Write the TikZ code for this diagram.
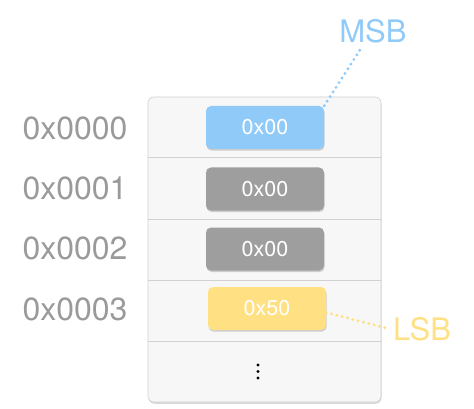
\documentclass[tikz,border=0pt]{standalone}
\usepackage{fontspec}
\setmainfont{TeX Gyre Heros}
\usetikzlibrary{shadows}
\definecolor{cellblue}{HTML}{90CAF9}
\definecolor{cellgray}{HTML}{9E9E9E}
\definecolor{cellyellow}{HTML}{FFE082}
\definecolor{addrgray}{HTML}{9A9A9A}
\definecolor{boxfill}{HTML}{F7F7F7}
\definecolor{boxline}{HTML}{D2D2D2}

\begin{document}
\begin{tikzpicture}[x=1pt, y=-1pt,
  every node/.style={font=\fontsize{21.5}{25}\selectfont},
  cell/.style={rounded corners=5pt, minimum width=118pt, minimum height=43pt, text=white,
    drop shadow={shadow xshift=0.6pt, shadow yshift=-1.6pt, opacity=0.35}},
  addr/.style={text=addrgray, font=\fontsize{32}{38}\selectfont},
  tag/.style={font=\fontsize{31}{37}\selectfont},
  lead/.style={line width=3.2pt, line cap=round, dash pattern=on 0pt off 5.5pt}]
  \useasboundingbox (0,0) rectangle (474,409);

  % memory column
  \node[draw=boxline, line width=0.6pt, fill=boxfill, rounded corners=6pt, minimum width=233pt, minimum height=305pt,
    drop shadow={shadow xshift=0.6pt, shadow yshift=-1.8pt, opacity=0.3}] (mem) at (264.5,249.5) {};
  \draw[boxline, line width=1pt] (148,158) -- (381,158);
  \draw[boxline, line width=1pt] (148,219) -- (381,219);
  \draw[boxline, line width=1pt] (148,280) -- (381,280);
  \draw[boxline, line width=1pt] (148,341) -- (381,341);

  \node[cell, fill=cellblue] (b0) at (265,127.5) {0x00};
  \node[cell, fill=cellgray] (b1) at (265,189) {0x00};
  \node[cell, fill=cellgray] (b2) at (265,249) {0x00};
  \node[cell, fill=cellyellow] (b3) at (267,308.5) {0x50};
  \foreach \y in {365,371.5,378} \fill (258,\y) circle (1.7pt);

  % addresses
  \node[addr, anchor=east] (a0) at (131,128) {0x0000};
  \node[addr, anchor=east] (a1) at (131,188) {0x0001};
  \node[addr, anchor=east] (a2) at (131,248) {0x0002};
  \node[addr, anchor=east] (a3) at (131,309) {0x0003};

  % byte order tags
  \node[tag, text=cellblue] (msb) at (373,31) {MSB};
  \node[tag, text=cellyellow] (lsb) at (422,329) {LSB};
  \draw[lead, cellblue] (b0.north east) -- ([xshift=-12pt,yshift=-2pt]msb.south);
  \draw[lead, cellyellow] ([yshift=-4pt]b3.east) -- (lsb.west);
\end{tikzpicture}
\end{document}
